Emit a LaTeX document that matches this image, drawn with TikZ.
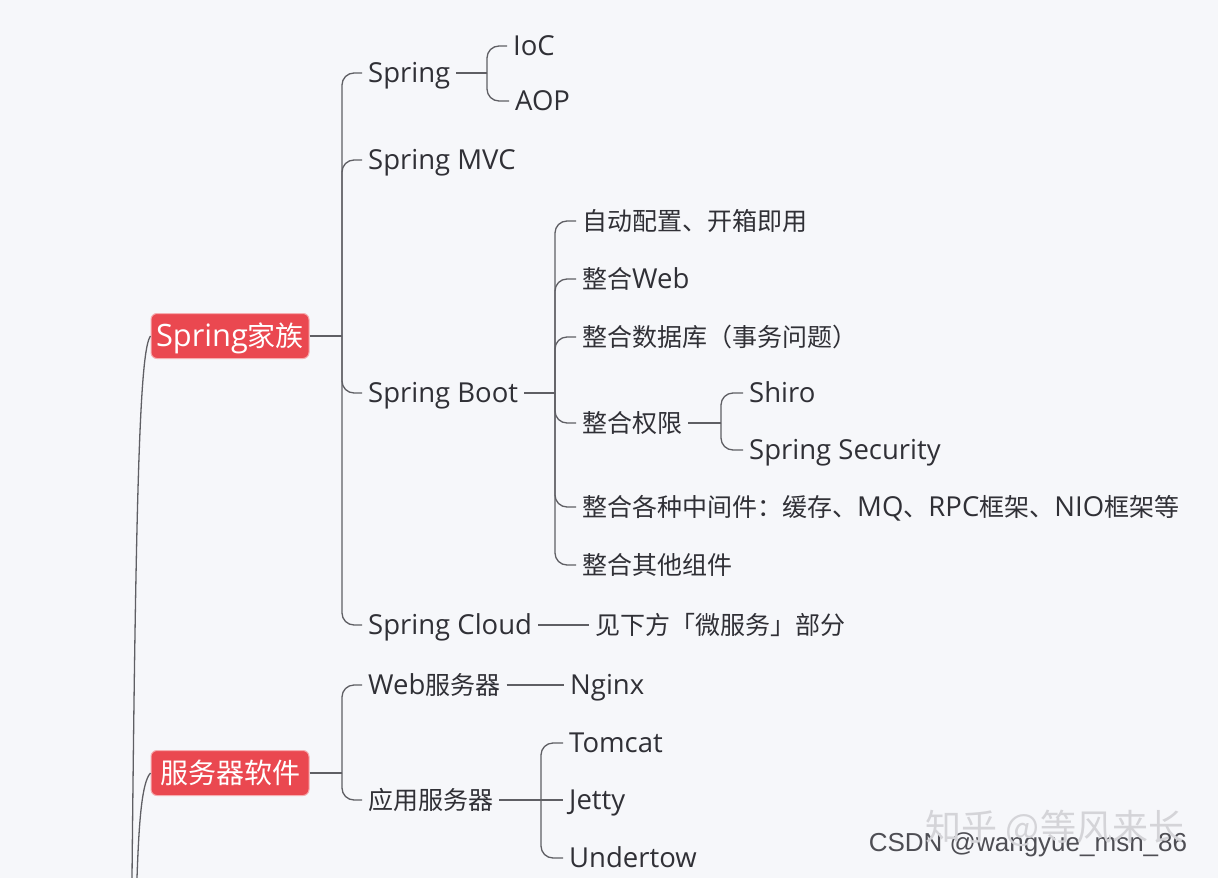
\documentclass[tikz,border=0pt]{standalone}
\usepackage{fontspec}
\setmainfont{Noto Sans CJK SC}
\newfontfamily\latfont[Scale=1.1]{Open Sans}
\newfontfamily\wmfont{Liberation Sans}
\definecolor{bg}{RGB}{246,247,250}
\definecolor{boxred}{RGB}{234,72,80}
\definecolor{txt}{RGB}{48,48,54}
\definecolor{linegray}{RGB}{95,95,100}
\definecolor{wmlight}{RGB}{212,212,216}
\definecolor{wmdark}{RGB}{78,78,84}
\newcommand\en[1]{{\latfont #1}}
\tikzset{
  topic/.style={fill=boxred, draw=boxred!45, line width=1pt, text=white, rounded corners=6pt,
    minimum width=158pt, minimum height=45pt, inner sep=0pt,
    font=\fontsize{28}{32}\selectfont, text height=21pt, text depth=0pt},
  sub/.style={anchor=west, text=txt, inner xsep=6pt, inner ysep=0pt,
    font=\fontsize{25}{30}\selectfont, text height=19pt, text depth=0pt},
  en/.style={sub, font=\latfont\fontsize{25}{30}\selectfont},
  link/.style={draw=linegray, line width=1.3pt},
  bracket/.style={link, rounded corners=12pt},
}
\begin{document}
\begin{tikzpicture}[x=1pt,y=-1pt]

\useasboundingbox (0,0) rectangle (1218,878);
\fill[bg] (0,0) rectangle (1218,878);

% The main topics
\node[topic] (sfam) at (230,336) {\en{Spring}家族};
\node[topic] (serv) at (230,773) {服务器软件};

\coordinate (rootA) at (132,878);
\coordinate (rootB) at (137,878);
\draw[link] (rootA) .. controls (136,480) and (140,350) .. (sfam.west);
\draw[link] (rootB) .. controls (139,820) and (142,782) .. (serv.west);

% Spring family
\node[en] (spring) at (362,73) {Spring};
\node[en] (ioc) at (507,46) {IoC};
\node[en] (aop) at (509,101) {AOP};
\node[en] (mvc) at (362,160) {Spring MVC};
\node[en] (boot) at (362,393) {Spring Boot};
\node[en] (cloud) at (362,625) {Spring Cloud};

\node[sub] (auto) at (576,221) {自动配置、开箱即用};
\node[sub] (web) at (576,279) {整合\en{Web}};
\node[sub] (db) at (576,337) {整合数据库（事务问题）};
\node[sub] (auth) at (576,423) {整合权限};
\node[sub] (mid) at (576,507) {整合各种中间件：缓存、\en{MQ}、\en{RPC}框架、\en{NIO}框架等};
\node[sub] (other) at (576,565) {整合其他组件};

\node[en] (shiro) at (743,393) {Shiro};
\node[en] (sec) at (743,450) {Spring Security};
\node[sub] (micro) at (589,625) {见下方「微服务」部分};

\coordinate (sfamj) at (342,336);
\coordinate (springj) at (487,73);
\coordinate (bootj) at (555,393);
\coordinate (authj) at (721,423);

\draw[link] (sfam.east) -- (sfamj);
\foreach \c in {spring,mvc,boot,cloud}
  \draw[bracket] (sfamj) |- (\c.west);
\draw[link] (spring.east) -- (springj);
\foreach \c in {ioc,aop}
  \draw[bracket] (springj) |- (\c.west);
\draw[link] (boot.east) -- (bootj);
\foreach \c in {auto,web,db,auth,mid,other}
  \draw[bracket] (bootj) |- (\c.west);
\draw[link] (auth.east) -- (authj);
\foreach \c in {shiro,sec}
  \draw[bracket] (authj) |- (\c.west);
\draw[link] (cloud.east) -- (micro.west);

% Server software
\node[sub] (websrv) at (362,685) {\en{Web}服务器};
\node[sub] (appsrv) at (362,800) {应用服务器};
\node[en] (nginx) at (564,685) {Nginx};
\node[en] (tomcat) at (563,743) {Tomcat};
\node[en] (jetty) at (563,800) {Jetty};
\node[en] (under) at (563,858) {Undertow};

\coordinate (servj) at (342,773);
\coordinate (appj) at (541,800);

\draw[link] (serv.east) -- (servj);
\foreach \c in {websrv,appsrv}
  \draw[bracket] (servj) |- (\c.west);
\draw[link] (websrv.east) -- (nginx.west);
\draw[link] (appsrv.east) -- (jetty.west);
\foreach \c in {tomcat,under}
  \draw[bracket] (appj) |- (\c.west);

% Watermarks
\node[font=\wmfont\fontsize{26}{30}\selectfont, text=wmdark] (csdn) at (1028,845) {CSDN @wangyue\_msn\_86};
\node[font=\fontsize{36}{40}\selectfont, text=wmlight] (zhihu) at (1055,828) {知乎 @等风来长};

\end{tikzpicture}
\end{document}
